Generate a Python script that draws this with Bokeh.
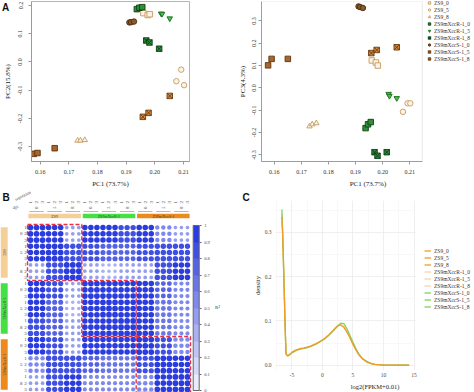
import numpy as np
from bokeh.plotting import figure
from bokeh.models import (Range1d, FixedTicker, Legend, LegendItem, BoxAnnotation,
                          ColorBar, LinearColorMapper, ColumnDataSource, Div)
from bokeh.layouts import row, column
from bokeh.embed import file_html
from bokeh.resources import INLINE
from bokeh.core.properties import value

SERIF = "Liberation Serif"
SANS = "Liberation Sans"

# ---------------- Panel A data ----------------
groups = ["ZS9_0", "ZS9_5", "ZS9_8",
          "ZS9mXccR-1_0", "ZS9mXccR-1_5", "ZS9mXccR-1_8",
          "ZS9mXccS-1_0", "ZS9mXccS-1_5", "ZS9mXccS-1_8"]
pc1_values = [0.1960, 0.1975, 0.1982, 0.2092, 0.2102, 0.2075, 0.1730, 0.1740, 0.1755,
              0.1937, 0.1946, 0.1956, 0.2022, 0.2025, 0.2052, 0.1970, 0.1981, 0.2015,
              0.1911, 0.1917, 0.1927, 0.1958, 0.1978, 0.2052, 0.1577, 0.1590, 0.1650]
pc2_values = [0.173, 0.166, 0.169, -0.027, -0.082, -0.068, -0.278, -0.278, -0.276,
              0.187, 0.192, 0.194, 0.171, 0.170, 0.154, 0.076, 0.069, 0.047,
              0.140, 0.141, 0.143, -0.194, -0.180, -0.120, -0.325, -0.322, -0.305]
pc3_values = [0.123, 0.114, 0.100, -0.069, -0.069, -0.107, -0.172, -0.163, -0.158,
              -0.180, -0.163, -0.153, -0.027, -0.036, -0.046, -0.288, -0.304, -0.288,
              0.365, 0.362, 0.358, 0.156, 0.170, 0.182, 0.101, 0.130, 0.130]
a_x_ticks = [0.16, 0.17, 0.18, 0.19, 0.20, 0.21]
a_x_labels = ["0.16", "0.17", "0.18", "0.19", "0.20", "0.21"]
a1_y_ticks = [-0.3, -0.2, -0.1, 0.0, 0.1, 0.2]
a1_y_labels = ["-0.3", "-0.2", "-0.1", "0.0", "0.1", "0.2"]
a2_y_ticks = [-0.3, -0.2, -0.1, 0.0, 0.1, 0.2, 0.3]
a2_y_labels = ["-0.3", "-0.2", "-0.1", "0.0", "0.1", "0.2", "0.3"]

# ---------------- Panel B data ----------------
conditions = ["ZS9_0", "ZS9_5", "ZS9_8", "R-1_0", "R-1_5", "R-1_8", "S-1_0", "S-1_5", "S-1_8"]
block_r2 = [
    [0.97, 0.90, 0.42, 0.93, 0.92, 0.88, 0.92, 0.60, 0.40],
    [0.90, 0.97, 0.86, 0.80, 0.78, 0.74, 0.80, 0.88, 0.84],
    [0.42, 0.86, 0.97, 0.40, 0.38, 0.40, 0.42, 0.88, 0.92],
    [0.93, 0.80, 0.40, 0.97, 0.95, 0.93, 0.93, 0.72, 0.52],
    [0.92, 0.78, 0.38, 0.95, 0.97, 0.94, 0.93, 0.70, 0.50],
    [0.88, 0.74, 0.40, 0.93, 0.94, 0.97, 0.92, 0.66, 0.50],
    [0.92, 0.80, 0.42, 0.93, 0.93, 0.92, 0.97, 0.80, 0.60],
    [0.60, 0.88, 0.88, 0.72, 0.70, 0.66, 0.80, 0.97, 0.93],
    [0.40, 0.84, 0.92, 0.52, 0.50, 0.50, 0.60, 0.93, 0.97],
]
genotype_names = ["ZS9", "ZS9mXccR-1", "ZS9mXccS-1"]
dpi_labels = ["0", "5", "8"]
rep_labels = ["1", "2", "3"]
cb_ticks = [0, 0.1, 0.2, 0.3, 0.4, 0.5, 0.6, 0.7, 0.8, 0.9, 1]
cb_labels = ["0", "0.1", "0.2", "0.3", "0.4", "0.5", "0.6", "0.7", "0.8", "0.9", "1"]

# ---------------- Panel C data ----------------
density_x = [-6.64, -6.5, -6.3, -6.1, -5.96, -5.7, -5.4, -5.0, -4.5, -4.0,
             -3.5, -3.0, -2.5, -2.0, -1.5, -1.0, -0.5, 0.0, 0.5, 1.0,
             1.5, 2.0, 2.5, 3.0, 3.5, 4.0, 4.5, 5.0, 5.5, 6.0,
             6.5, 7.0, 7.5, 8.0, 8.5, 9.0, 10.0, 11.0, 12.0, 13.0, 14.2]
density_zs9 = [0.335, 0.29, 0.19, 0.085, 0.026, 0.021, 0.024, 0.029, 0.033, 0.036,
               0.038, 0.039, 0.041, 0.043, 0.046, 0.049, 0.053, 0.057, 0.062, 0.068,
               0.075, 0.082, 0.089, 0.091, 0.086, 0.075, 0.062, 0.047, 0.034, 0.023,
               0.015, 0.010, 0.006, 0.004, 0.002, 0.0015, 0.0006, 0.0002, 0.0001, 0.0, 0.0]
density_r1 = [0.342, 0.295, 0.193, 0.087, 0.026, 0.021, 0.024, 0.029, 0.034, 0.036,
              0.037, 0.038, 0.040, 0.042, 0.045, 0.049, 0.053, 0.057, 0.062, 0.068,
              0.075, 0.083, 0.090, 0.092, 0.088, 0.078, 0.064, 0.049, 0.035, 0.024,
              0.016, 0.010, 0.006, 0.004, 0.002, 0.0015, 0.0006, 0.0002, 0.0001, 0.0, 0.0]
density_s1 = [0.352, 0.30, 0.197, 0.088, 0.026, 0.021, 0.023, 0.028, 0.032, 0.035,
              0.037, 0.038, 0.040, 0.042, 0.045, 0.048, 0.052, 0.056, 0.061, 0.067,
              0.074, 0.081, 0.088, 0.095, 0.094, 0.083, 0.068, 0.052, 0.037, 0.025,
              0.016, 0.011, 0.007, 0.004, 0.0025, 0.0015, 0.0006, 0.0002, 0.0001, 0.0, 0.0]
c_x_ticks = [-5, 0, 5, 10, 15]
c_x_minor = [-7.5, -2.5, 2.5, 7.5, 12.5]
c_x_labels = ["-5", "0", "5", "10", "15"]
c_y_ticks = [0.0, 0.1, 0.2, 0.3]
c_y_minor = [0.05, 0.15, 0.25, 0.35]
c_y_labels = ["0.0", "0.1", "0.2", "0.3"]

# ---------------- styles ----------------
marker_styles = [
    ("square", "#FBF3E6", "#C59A5E"),
    ("circle", "#FBF3E6", "#C59A5E"),
    ("triangle", "#FBF3E6", "#C59A5E"),
    ("square", "#2F8F3A", "#0E3F14"),
    ("inverted_triangle", "#3CCB3C", "#1C6A1C"),
    ("square_x", "#2D8A3B", "#0E3F14"),
    ("circle", "#8A5A2A", "#4A2C0E"),
    ("square_x", "#D38A3C", "#6A3A12"),
    ("square", "#A8652C", "#5A3410"),
]
AXIS_GRAY = "#9a9a9a"
TOP_H = 190
BOT_H = 202


def style_axes(p):
    for ax in p.axis:
        ax.major_label_text_font = SERIF
        ax.major_label_text_font_size = "6px"
        ax.major_label_text_color = "#333333"
        ax.axis_label_text_font = SERIF
        ax.axis_label_text_font_size = "7px"
        ax.axis_label_text_font_style = "normal"
        ax.axis_label_text_color = "#222222"
        ax.minor_tick_line_color = None
        ax.minor_tick_out = 0
        ax.major_tick_out = 3
        ax.major_tick_in = 0
        ax.axis_line_color = AXIS_GRAY
        ax.major_tick_line_color = AXIS_GRAY


def pca_panel(yvals, xr, yr, yticks, ylabels, ylab, width, mbl, mbr, lab_standoff, axlab_standoff):
    p = figure(width=width, height=TOP_H, x_range=Range1d(*xr), y_range=Range1d(*yr),
               output_backend="svg", toolbar_location=None,
               min_border_left=mbl, min_border_right=mbr, min_border_top=1, min_border_bottom=27)
    p.xaxis.axis_label = "PC1 (73.7%)"
    p.yaxis.axis_label = ylab
    p.xaxis.ticker = FixedTicker(ticks=a_x_ticks)
    p.xaxis.major_label_overrides = dict(zip(a_x_ticks, a_x_labels))
    p.yaxis.ticker = FixedTicker(ticks=yticks)
    p.yaxis.major_label_overrides = dict(zip(yticks, ylabels))
    p.yaxis.major_label_orientation = "vertical"
    p.grid.visible = False
    p.outline_line_color = "#b5b5b5"
    style_axes(p)
    p.xaxis.major_label_standoff = 5
    p.xaxis.axis_label_standoff = 3
    p.yaxis.major_label_standoff = lab_standoff
    p.yaxis.axis_label_standoff = axlab_standoff
    rends = []
    for k, g in enumerate(groups):
        mk, fc, lc = marker_styles[k]
        r = p.scatter(x=pc1_values[3 * k:3 * k + 3], y=yvals[3 * k:3 * k + 3], marker=mk,
                      size=5.5, fill_color=fc, line_color=lc, line_width=0.9)
        rends.append(r)
    return p, rends


pa1, _ = pca_panel(pc2_values, (0.1569, 0.2121), (-0.352, 0.214), a1_y_ticks, a1_y_labels,
                   "PC2(15.8%)", 235, 29, 46, 6, 4)

# A2: frame widened to host the legend; the visible panel box is drawn as an annotation
A2_X = (0.15527, 0.21462)
A2_Y = (-0.3296, 0.387)
pa2, a2_rends = pca_panel(pc3_values, (A2_X[0], 0.2339), A2_Y, a2_y_ticks, a2_y_labels,
                          "PC3(4.3%)", 239, 23, 0, 2, 3)
pa2.outline_line_color = None
pa2.xaxis.bounds = A2_X
pa2.add_layout(BoxAnnotation(left=A2_X[0], right=A2_X[1], bottom=A2_Y[0], top=A2_Y[1],
                             fill_alpha=0, line_color="#b5b5b5", line_width=1))
leg_a = Legend(items=[LegendItem(label=g, renderers=[r]) for g, r in zip(groups, a2_rends)],
               location=(165, 99), margin=0, padding=0, spacing=0,
               glyph_width=6, glyph_height=7, label_height=7, label_standoff=2,
               label_text_font=SERIF, label_text_font_size="5.5px", label_text_color="#333333",
               border_line_color=None, background_fill_alpha=0)
pa2.add_layout(leg_a, "center")

# ---------------- Panel B ----------------
r2_palette = ["#EAEBFC", "#D4D8F9", "#BFC4F5", "#AAB1F2", "#949DEF",
              "#7F89EC", "#6A76E8", "#5562E5", "#3F4FE2", "#2A3BDF"]
mapper = LinearColorMapper(palette=r2_palette, low=0, high=1)

pb = figure(width=250, height=BOT_H, x_range=Range1d(-4.472, 36.94), y_range=Range1d(27, -5.464),
            output_backend="svg", toolbar_location=None, min_border=0,
            x_axis_location=None, y_axis_location=None)
pb.grid.visible = False
pb.outline_line_color = None

n = 27
hx, hy, hv, hs = [], [], [], []
for i in range(n):
    for j in range(n):
        v = 1.0 if i == j else block_r2[i // 3][j // 3]
        hx.append(j + 0.5)
        hy.append(i + 0.5)
        hv.append(v)
        hs.append(5.8 * np.sqrt(v))
heat_src = ColumnDataSource(data=dict(x=hx, y=hy, v=hv, s=hs))
pb.scatter(x="x", y="y", size="s", marker="circle",
           fill_color={"field": "v", "transform": mapper}, line_color=None, source=heat_src)

geno_colors = ["#F5CF98", "#44E044", "#EC8A1E"]
pb.quad(left=[9 * g + 0.15 for g in range(3)], right=[9 * g + 8.85 for g in range(3)],
        top=[-1.72] * 3, bottom=[-1.01] * 3, fill_color=geno_colors, line_color=None)
pb.text(x=[9 * g + 4.5 for g in range(3)], y=[-1.36] * 3, text=genotype_names,
        text_font=value(SERIF), text_font_size="4px", text_align="center",
        text_baseline="middle", text_color="#444444")
pb.quad(left=[-4.472] * 3, right=[-3.28] * 3,
        top=[9 * g + 0.43 for g in range(3)], bottom=[9 * g + 8.57 for g in range(3)],
        fill_color=geno_colors, line_color=None)
pb.text(x=[-3.88] * 3, y=[9 * g + 4.5 for g in range(3)], text=genotype_names, angle=np.pi / 2,
        text_font=value(SERIF), text_font_size="4px", text_align="center",
        text_baseline="middle", text_color="#444444")
pb.text(x=[j + 0.5 for j in range(n)], y=[-3.58] * n, text=[rep_labels[j % 3] for j in range(n)],
        angle=np.pi / 2, text_font=value(SERIF), text_font_size="5px", text_align="center",
        text_baseline="middle", text_color="#444444")
pb.text(x=[3 * k + 1.5 for k in range(9)], y=[-2.68] * 9, text=[dpi_labels[k % 3] for k in range(9)],
        angle=np.pi / 2, text_font=value(SERIF), text_font_size="5px", text_align="center",
        text_baseline="middle", text_color="#444444")
pb.segment(x0=[3 * k + 0.3 for k in range(9)], x1=[3 * k + 2.7 for k in range(9)],
           y0=[-2.09] * 9, y1=[-2.09] * 9, line_color="#999999", line_width=0.7)
pb.text(x=[-0.33] * n, y=[i + 0.5 for i in range(n)], text=[rep_labels[i % 3] for i in range(n)],
        text_font=value(SERIF), text_font_size="5px", text_align="center",
        text_baseline="middle", text_color="#444444")
pb.text(x=[-1.04] * 9, y=[3 * k + 1.5 for k in range(9)], text=[dpi_labels[k % 3] for k in range(9)],
        text_font=value(SERIF), text_font_size="5px", text_align="center",
        text_baseline="middle", text_color="#444444")
pb.text(x=[-0.75], y=[-4.62], text=["repetition"], angle=0.46, text_font=value(SERIF),
        text_font_size="4.5px", text_align="center", text_baseline="middle", text_color="#555555")
pb.text(x=[-1.99], y=[-2.78], text=["dpi"], angle=0.25, text_font=value(SERIF),
        text_font_size="4.5px", text_align="center", text_baseline="middle", text_color="#555555")
pb.quad(left=[0, 9, 18], right=[9, 18, 27], top=[0, 9, 18], bottom=[9, 18, 27],
        fill_color=None, line_color="#E5323C", line_dash="4 2", line_width=1.4)
pb.text(x=[-4.14, 35.6], y=[-4.26, -4.26], text=["B", "C"], text_font=value(SANS),
        text_font_size="10px", text_font_style="bold", text_align="left",
        text_baseline="alphabetic", text_color="#111111")
pb.text(x=[31.47], y=[13.34], text=["R²"], text_font=value(SERIF), text_font_size="5px",
        text_align="center", text_baseline="middle", text_color="#333333")

cb = ColorBar(color_mapper=mapper, location=(192.7, 2), width=6, height=165,
              padding=0, margin=0, ticker=FixedTicker(ticks=cb_ticks),
              major_label_overrides=dict(zip(cb_ticks, cb_labels)),
              major_label_text_font=SERIF, major_label_text_font_size="4.5px",
              major_label_text_color="#444444", label_standoff=3,
              major_tick_line_color="#666666", major_tick_out=2, major_tick_in=0,
              minor_tick_line_color=None, bar_line_color="#666666",
              background_fill_alpha=0, border_line_color=None)
pb.add_layout(cb, "center")

# ---------------- Panel C ----------------
C_X = (-7.68, 15.24)
pc = figure(width=224, height=BOT_H, x_range=Range1d(C_X[0], 24.9), y_range=Range1d(-0.0118, 0.372),
            output_backend="svg", toolbar_location=None,
            min_border_left=21, min_border_right=0, min_border_top=10, min_border_bottom=20)
pc.outline_line_color = None
pc.xaxis.ticker = FixedTicker(ticks=c_x_ticks, minor_ticks=c_x_minor)
pc.xaxis.major_label_overrides = dict(zip(c_x_ticks, c_x_labels))
pc.xaxis.bounds = C_X
pc.yaxis.ticker = FixedTicker(ticks=c_y_ticks, minor_ticks=c_y_minor)
pc.yaxis.major_label_overrides = dict(zip(c_y_ticks, c_y_labels))
pc.xaxis.axis_label = "log2(FPKM+0.01)"
pc.yaxis.axis_label = "density"
for ax in pc.axis:
    ax.axis_line_color = None
    ax.major_tick_line_color = None
    ax.minor_tick_line_color = None
    ax.major_tick_out = 0
    ax.major_tick_in = 0
    ax.minor_tick_out = 0
    ax.minor_tick_in = 0
    ax.major_label_text_font = SERIF
    ax.major_label_text_font_size = "5.5px"
    ax.major_label_text_color = "#4D4D4D"
    ax.axis_label_text_font = SERIF
    ax.axis_label_text_font_size = "6.5px"
    ax.axis_label_text_font_style = "normal"
    ax.axis_label_text_color = "#222222"
pc.xaxis.major_label_standoff = 2
pc.xaxis.axis_label_standoff = 3
pc.yaxis.major_label_standoff = 4
pc.yaxis.axis_label_standoff = 1
pc.grid.grid_line_color = "#EBEBEB"
pc.grid.grid_line_width = 0.8
pc.grid.minor_grid_line_color = "#F4F4F4"
pc.grid.minor_grid_line_width = 0.6
# white cover so the panel grid stops at the panel edge (legend area)
pc.add_layout(BoxAnnotation(left=C_X[1], fill_color="white", fill_alpha=1, line_color=None))

line_colors = ["#F29B26", "#F9D3A2", "#7FD35A"]
r_r1 = pc.line(density_x, density_r1, line_color=line_colors[1], line_width=1.3)
r_s1 = pc.line(density_x, density_s1, line_color=line_colors[2], line_width=1.3)
r_zs9 = pc.line(density_x, density_zs9, line_color=line_colors[0], line_width=1.3)
group_rends = [r_zs9, r_r1, r_s1]
leg_c = Legend(items=[LegendItem(label=g, renderers=[group_rends[k // 3]]) for k, g in enumerate(groups)],
               location=(149, 60), margin=0, padding=0, spacing=0,
               glyph_width=7, glyph_height=7, label_height=7, label_standoff=3,
               label_text_font=SERIF, label_text_font_size="5.5px", label_text_color="#333333",
               border_line_color=None, background_fill_alpha=0)
pc.add_layout(leg_c, "center")

label_a = Div(text="A", width=10, height=12, margin=0,
              styles={"position": "absolute", "left": "2px", "top": "3px", "z-index": "10",
                      "font-family": SANS, "font-size": "10px", "font-weight": "bold",
                      "line-height": "10px", "color": "#111111"})

layout = column(row(pa1, pa2), row(column(pb), column(pc)), label_a)
open("out.html", "w").write(file_html(layout, INLINE))
